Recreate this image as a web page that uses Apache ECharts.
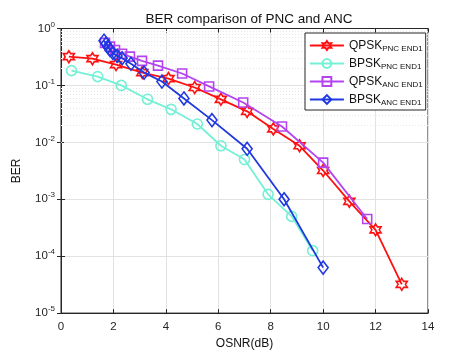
<!DOCTYPE html>
<html><head><meta charset="utf-8">
<script src="https://cdn.jsdelivr.net/npm/echarts@6/dist/echarts.min.js"></script>
<style>html,body{margin:0;padding:0;background:#fff}#c{width:474px;height:355px}</style>
</head><body><div id="c"></div>
<script>
var qpskPncX = [0.3,1.2,2.1,3.1,4.1,5.1,6.1,7.1,8.1,9.1,10.0,11.0,12.0,13.0];
var qpskPncY = [0.32,0.295,0.232,0.168,0.132,0.092,0.057,0.035,0.0172,0.0087,0.0032,0.00092,0.00029,0.000032];
var bpskPncX = [0.4,1.4,2.3,3.3,4.2,5.2,6.1,7.0,7.9,8.8,9.6];
var bpskPncY = [0.182,0.143,0.1,0.057,0.038,0.021,0.0087,0.005,0.00122,0.0005,0.000125];
var qpskAncX = [1.68,1.87,2.06,2.33,2.63,3.09,3.7,4.62,5.65,6.95,8.43,10.0,11.68];
var qpskAncY = [0.56,0.48,0.42,0.36,0.32,0.27,0.223,0.162,0.096,0.05,0.019,0.0044,0.00045];
var bpskAncX = [1.64,1.72,1.79,1.87,1.98,2.14,2.33,2.67,3.17,3.85,4.69,5.76,7.1,8.51,10.0];
var bpskAncY = [0.61,0.54,0.48,0.42,0.37,0.33,0.30,0.24,0.168,0.117,0.059,0.0246,0.0077,0.001,0.000063];
var seriesNames = ['QPSK|PNC END1','BPSK|PNC END1','QPSK|ANC END1','BPSK|ANC END1'];
var xTicks = [0,2,4,6,8,10,12,14];
var yDecades = [-5,-4,-3,-2,-1,0];

function pairs(xs, ys){ return xs.map(function(x,i){ return [x, ys[i]]; }); }
var minorVals = [];
yDecades.slice(0,-1).forEach(function(d){ for (var m=2;m<=9;m++) minorVals.push(m*Math.pow(10,d)); });

var hexagram = 'path://M0,-10 L2.887,-5 L8.66,-5 L5.774,0 L8.66,5 L2.887,5 L0,10 L-2.887,5 L-8.66,5 L-5.774,0 L-8.66,-5 L-2.887,-5 Z';
var colors = ['#ff1010','#74f0d6','#b444f0','#2038e0'];
var symbols = [hexagram,'circle','rect','diamond'];
var sizes = [[11,12],10,[9,9],[10,13]];
var datas = [pairs(qpskPncX,qpskPncY),pairs(bpskPncX,bpskPncY),pairs(qpskAncX,qpskAncY),pairs(bpskAncX,bpskAncY)];

var FONT = 'Liberation Sans, Arial, Helvetica, sans-serif';
var series = seriesNames.map(function(n,i){
  return {
    name: n, type: 'line', data: datas[i], symbol: symbols[i], symbolSize: sizes[i],
    showAllSymbol: true, z: 3+i,
    lineStyle: {color: colors[i], width: 1.8, type: 'solid'},
    itemStyle: {color: 'rgba(255,255,255,0)', borderColor: colors[i], borderWidth: 1.6, borderType: 'solid'}
  };
});
series.push({
  name: 'minorgrid', type: 'line', data: [], silent: true, z: 1,
  markLine: {silent: true, symbol: 'none', z: 1, label: {show: false},
    lineStyle: {color: '#e6e6e6', type: [1,2], width: 1},
    data: minorVals.map(function(v){ return {yAxis: v}; })}
});

var chart = echarts.init(document.getElementById('c'), null, {renderer: 'canvas'});
chart.setOption({
  animation: false,
  backgroundColor: '#fff',
  textStyle: {fontFamily: FONT},
  title: {text: 'BER comparison of PNC and ANC', left: 244, top: 7, textAlign: 'center',
    textStyle: {fontFamily: FONT, fontSize: 13.5, fontWeight: 'normal', color: '#111'}},
  grid: {left: 61, right: 46, top: 28.5, bottom: 39, show: true, borderColor: '#262626', borderWidth: 1, backgroundColor: '#fff'},
  legend: {
    data: seriesNames.map(function(n,i){ return {name: n, lineStyle: {type: 'solid', color: colors[i], width: 1.8}}; }),
    orient: 'vertical', left: 305, top: 33, z: 10,
    backgroundColor: '#fff', borderColor: '#262626', borderWidth: 1,
    padding: [5, 3, 3, 4], itemGap: 3, itemWidth: 34, itemHeight: 11,
    formatter: function(n){ var p = n.split('|'); return '{a|' + p[0] + '}{s|' + p[1] + '}'; },
    textStyle: {rich: {
      a: {fontFamily: FONT, fontSize: 12, color: '#111', lineHeight: 14},
      s: {fontFamily: FONT, fontSize: 8, color: '#111', padding: [7,0,0,0], lineHeight: 11}
    }}
  },
  xAxis: [{
    type: 'value', min: 0, max: 14, interval: 2,
    name: 'OSNR(dB)', nameLocation: 'middle', nameGap: 22,
    nameTextStyle: {fontFamily: FONT, fontSize: 12, color: '#111'},
    axisLine: {show: true, onZero: false, lineStyle: {color: '#262626'}},
    axisTick: {show: true, inside: true, length: 4, lineStyle: {color: '#262626'}},
    axisLabel: {fontFamily: FONT, fontSize: 11.5, color: '#262626', margin: 8},
    splitLine: {show: true, lineStyle: {color: '#e2e2e2', width: 1}}
  },{
    type: 'value', min: 0, max: 14, interval: 2, position: 'top',
    axisLine: {show: true, lineStyle: {color: '#262626'}},
    axisTick: {show: true, inside: true, length: 4, lineStyle: {color: '#262626'}},
    axisLabel: {show: false}, splitLine: {show: false}
  }],
  yAxis: [{
    type: 'log', logBase: 10, min: 1e-5, max: 1,
    name: 'BER', nameLocation: 'middle', nameGap: 38, nameRotate: 90,
    nameTextStyle: {fontFamily: FONT, fontSize: 12, color: '#111'},
    axisLine: {show: true, lineStyle: {color: '#262626'}},
    axisTick: {show: true, inside: true, length: 4, lineStyle: {color: '#262626'}},
    axisLabel: {
      formatter: function(v){ var e = Math.round(Math.log10(v)); return '{b|10}{s|' + e + '}'; },
      rich: {b: {fontFamily: FONT, fontSize: 11.5, color: '#262626'},
             s: {fontFamily: FONT, fontSize: 8, color: '#262626', padding: [0,0,8,0]}},
      margin: 6
    },
    splitLine: {show: true, lineStyle: {color: '#e2e2e2', width: 1}}
  },{
    type: 'log', logBase: 10, min: 1e-5, max: 1, position: 'right',
    axisLine: {show: true, lineStyle: {color: '#262626'}},
    axisTick: {show: true, inside: true, length: 4, lineStyle: {color: '#262626'}},
    axisLabel: {show: false}, splitLine: {show: false}
  }],
  series: series
});
</script></body></html>
